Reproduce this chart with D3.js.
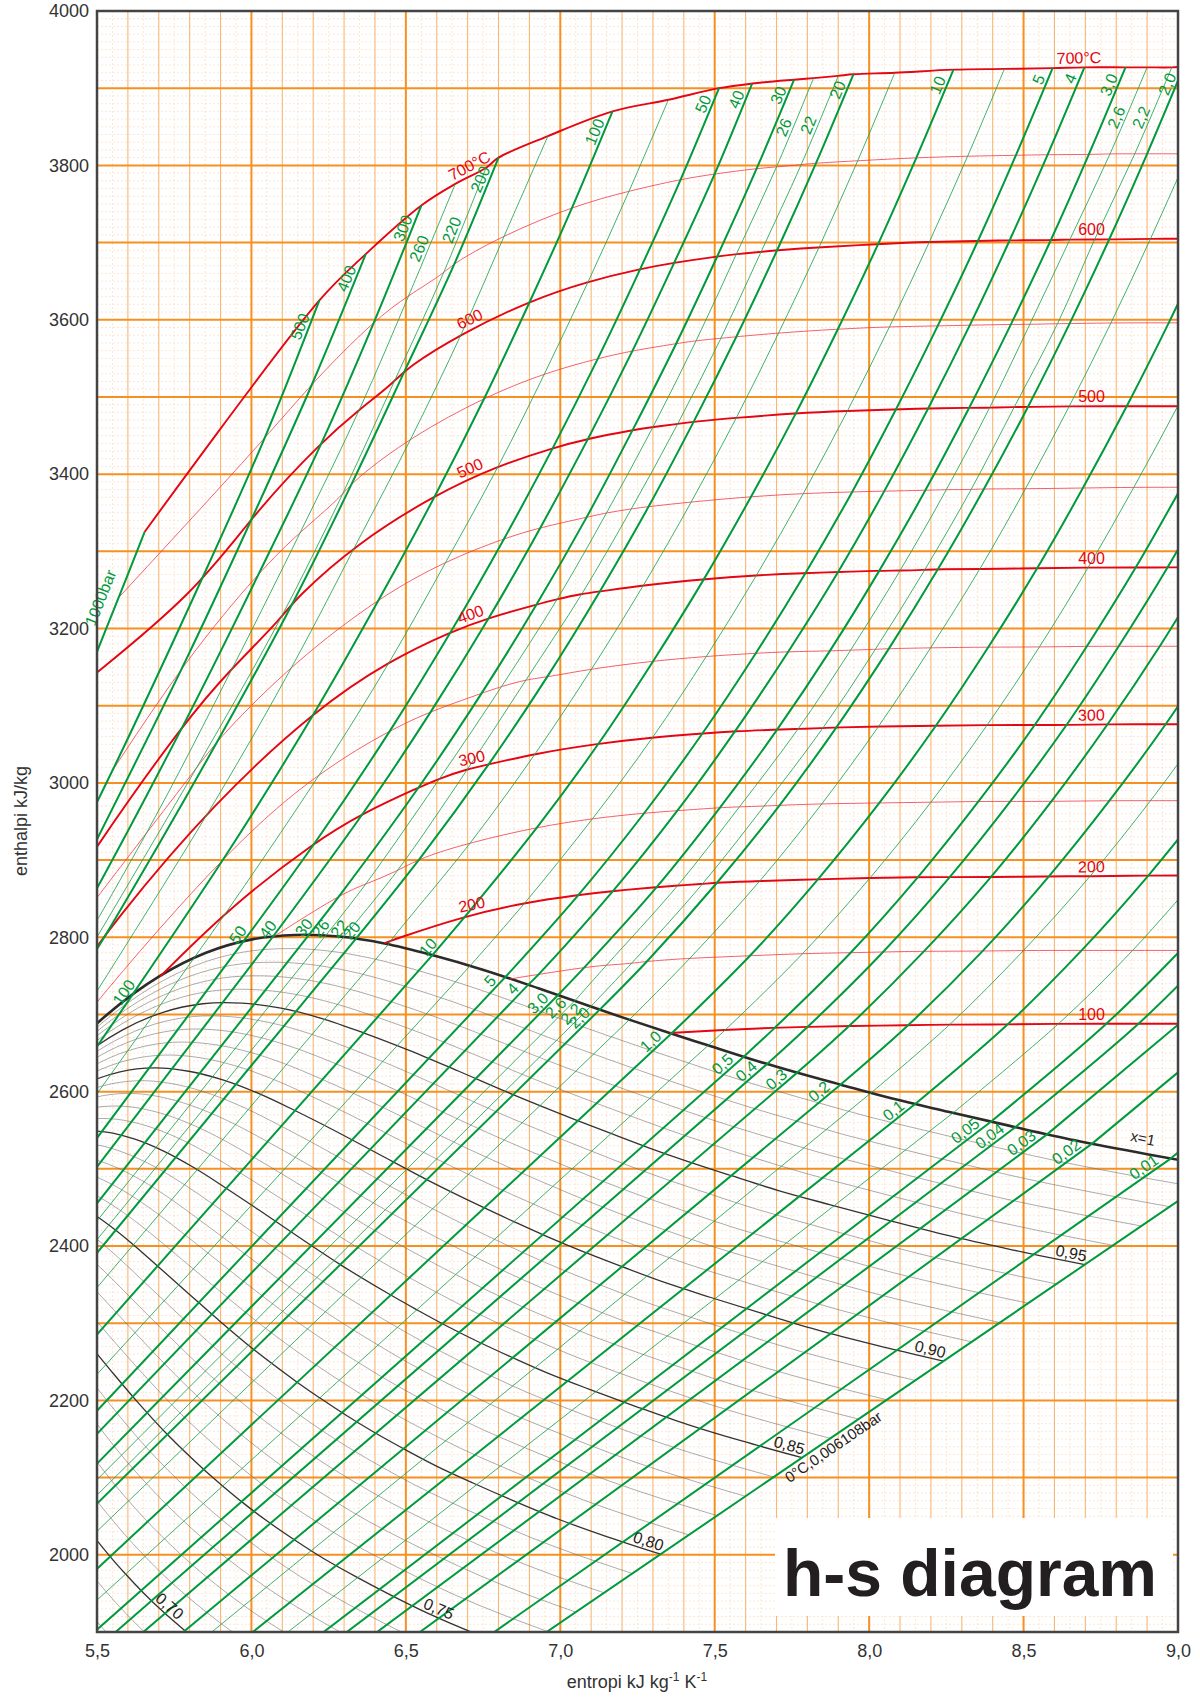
<!DOCTYPE html>
<html><head><meta charset="utf-8">
<script src="https://cdn.jsdelivr.net/npm/d3@7"></script>
<style>body{margin:0;background:#fff}svg{display:block}text{font-family:"Liberation Sans",Arial,sans-serif}</style>
</head><body><div id="chart"></div>
<script>
// axis ticks
var xTicks = [5.5, 6.0, 6.5, 7.0, 7.5, 8.0, 8.5, 9.0];
var yTicks = [2000, 2200, 2400, 2600, 2800, 3000, 3200, 3400, 3600, 3800, 4000];

// saturation data per isobar: [p bar, T C, hf, sf, hg, sg]
var satRows = [
  [200, 365.8, 1827, 4.015, 2412, 4.927], [150, 342.2, 1610, 3.684, 2610, 5.311],
  [100, 311.0, 1408, 3.360, 2725, 5.614], [70, 285.9, 1267, 3.122, 2773, 5.814],
  [50, 264.0, 1155, 2.921, 2794, 5.973], [40, 250.4, 1087, 2.797, 2801, 6.070],
  [30, 233.9, 1008, 2.646, 2803, 6.186], [26, 226.1, 971, 2.572, 2802, 6.240],
  [22, 217.3, 932, 2.493, 2801, 6.300], [20, 212.4, 909, 2.447, 2799, 6.340],
  [15, 198.3, 845, 2.315, 2791, 6.444], [10, 179.9, 763, 2.138, 2777, 6.586],
  [7, 165.0, 697, 1.992, 2763, 6.708], [5, 151.8, 640, 1.861, 2748, 6.821],
  [4, 143.6, 605, 1.776, 2738, 6.895], [3, 133.5, 561, 1.672, 2725, 6.992],
  [2.6, 128.7, 541, 1.620, 2719, 7.050], [2.2, 123.3, 517, 1.560, 2711, 7.100],
  [2, 120.2, 505, 1.530, 2706, 7.127], [1.5, 111.4, 467, 1.434, 2693, 7.223],
  [1, 99.6, 417, 1.303, 2675, 7.359], [0.7, 90.0, 377, 1.192, 2660, 7.479],
  [0.5, 81.3, 340, 1.091, 2645, 7.593], [0.4, 75.9, 318, 1.026, 2636, 7.670],
  [0.3, 69.1, 289, 0.944, 2625, 7.768], [0.2, 60.1, 251, 0.832, 2609, 7.907],
  [0.15, 54.0, 226, 0.755, 2599, 8.008], [0.1, 45.8, 192, 0.649, 2584, 8.149],
  [0.07, 39.0, 164, 0.559, 2572, 8.270], [0.05, 32.9, 138, 0.476, 2561, 8.394],
  [0.04, 29.0, 121, 0.422, 2554, 8.473], [0.03, 24.1, 101, 0.354, 2545, 8.577],
  [0.02, 17.5, 73, 0.261, 2533, 8.723], [0.01, 7.0, 29, 0.106, 2513, 8.975],
  [0.006108, 0.01, 0, 0, 2501, 9.156]
];

// saturation table by temperature for the quality lines: [T C, hf, sf, hg, sg]
var satByT = [
  [360, 1761.7, 3.917, 2482, 5.054], [340, 1594.5, 3.660, 2622, 5.336], [320, 1462.2, 3.449, 2701, 5.536],
  [300, 1345.0, 3.255, 2750, 5.704], [280, 1236.7, 3.069, 2780, 5.853], [260, 1135.0, 2.885, 2797, 5.998],
  [240, 1037.6, 2.702, 2803, 6.141], [220, 943.6, 2.518, 2801, 6.284], [200, 852.3, 2.331, 2792, 6.431],
  [180, 763.1, 2.139, 2777, 6.585], [160, 675.5, 1.943, 2758, 6.749], [140, 589.2, 1.739, 2734, 6.929],
  [120, 503.8, 1.528, 2706, 7.129], [100, 419.2, 1.307, 2676, 7.354], [90, 376.9, 1.193, 2660, 7.478],
  [80, 334.9, 1.076, 2643, 7.611], [70, 293.0, 0.955, 2626, 7.754], [60, 251.2, 0.831, 2609, 7.908],
  [50, 209.3, 0.704, 2591, 8.075], [40, 167.5, 0.572, 2574, 8.256], [30, 125.7, 0.437, 2556, 8.452],
  [20, 83.9, 0.297, 2537, 8.666], [10, 42.0, 0.151, 2519, 8.900], [0.01, 0, 0, 2501, 9.156]
];

// superheated isobars: [p, [[T, s, h], ...]]
var superRows = [
  [1000, [[600,5.46,3130],[650,5.57,3240],[700,5.654,3325]]],
  [500, [[500,5.18,2720],[550,5.55,3016],[600,5.82,3247],[650,6.04,3444],[700,6.22,3625]]],
  [400, [[500,5.47,2903],[550,5.79,3161],[600,6.01,3350],[650,6.20,3520],[700,6.37,3685]]],
  [300, [[400,4.47,2153],[450,5.44,2820],[500,5.79,3083],[550,6.03,3276],[600,6.23,3443],[650,6.40,3600],[700,6.55,3748]]],
  [260, [[400,5.09,2540],[450,5.66,2935],[500,5.94,3150],[550,6.16,3326],[600,6.35,3484],[650,6.51,3632],[700,6.66,3776]]],
  [220, [[400,5.40,2733],[450,5.82,3018],[500,6.09,3210],[550,6.29,3370],[600,6.46,3518],[650,6.62,3659],[700,6.76,3797]]],
  [200, [[400,5.55,2818],[450,5.90,3061],[500,6.14,3238],[550,6.33,3392],[600,6.50,3537],[650,6.66,3675],[700,6.80,3810]]],
  [150, [[350,5.44,2692],[400,5.88,2975],[450,6.14,3157],[500,6.34,3310],[550,6.52,3449],[600,6.68,3582],[650,6.82,3710],[700,6.96,3838]]],
  [100, [[350,5.946,2924],[400,6.213,3097],[450,6.419,3242],[500,6.597,3374],[550,6.756,3500],[600,6.903,3625],[650,7.040,3747],[700,7.169,3870]]],
  [70, [[300,5.930,2839],[350,6.230,3017],[400,6.450,3159],[450,6.632,3288],[500,6.800,3411],[550,6.950,3531],[600,7.091,3650],[650,7.223,3767],[700,7.350,3885]]],
  [50, [[300,6.210,2925],[350,6.451,3069],[400,6.646,3196],[450,6.819,3317],[500,6.976,3434],[550,7.122,3550],[600,7.259,3666],[650,7.390,3782],[700,7.514,3900]]],
  [40, [[300,6.362,2961],[350,6.582,3093],[400,6.769,3214],[450,6.936,3331],[500,7.090,3446],[550,7.234,3560],[600,7.369,3674],[650,7.500,3789],[700,7.621,3906]]],
  [30, [[250,6.289,2856],[300,6.541,2994],[350,6.745,3116],[400,6.923,3231],[450,7.085,3344],[500,7.234,3457],[550,7.375,3569],[600,7.508,3682],[650,7.636,3796],[700,7.757,3911]]],
  [26, [[250,6.37,2869],[300,6.61,3006],[350,6.81,3125],[400,6.99,3238],[450,7.15,3350],[500,7.30,3461],[550,7.44,3573],[600,7.57,3685],[650,7.70,3798],[700,7.82,3913]]],
  [22, [[250,6.47,2885],[300,6.70,3018],[350,6.89,3134],[400,7.07,3245],[450,7.23,3355],[500,7.38,3465],[550,7.52,3576],[600,7.65,3688],[650,7.78,3801],[700,7.90,3916]]],
  [20, [[250,6.547,2903],[300,6.768,3024],[350,6.957,3137],[400,7.128,3248],[450,7.286,3358],[500,7.432,3468],[550,7.570,3578],[600,7.702,3690],[650,7.828,3803],[700,7.949,3918]]],
  [15, [[200,6.452,2796],[250,6.710,2923],[300,6.919,3038],[350,7.102,3148],[400,7.269,3256],[450,7.424,3364],[500,7.570,3473],[550,7.707,3583],[600,7.838,3694],[650,7.963,3806],[700,8.083,3920]]],
  [10, [[200,6.694,2828],[250,6.926,2943],[300,7.124,3051],[350,7.301,3158],[400,7.465,3264],[450,7.618,3371],[500,7.763,3479],[550,7.899,3588],[600,8.029,3698],[650,8.153,3810],[700,8.273,3924]]],
  [7, [[200,6.886,2845],[250,7.105,2954],[300,7.299,3059],[350,7.473,3164],[400,7.635,3269],[450,7.787,3375],[500,7.930,3482],[550,8.066,3591],[600,8.195,3701],[650,8.319,3812],[700,8.438,3925]]],
  [5, [[200,7.059,2855],[250,7.272,2961],[300,7.460,3064],[350,7.633,3168],[400,7.794,3272],[450,7.945,3377],[500,8.087,3484],[550,8.222,3592],[600,8.352,3702],[650,8.475,3813],[700,8.594,3926]]],
  [4, [[150,6.930,2752],[200,7.171,2860],[250,7.379,2964],[300,7.566,3067],[350,7.738,3170],[400,7.899,3273],[450,8.049,3378],[500,8.191,3485],[550,8.326,3593],[600,8.455,3703],[650,8.578,3814],[700,8.697,3927]]],
  [3, [[150,7.078,2761],[200,7.312,2865],[250,7.517,2968],[300,7.702,3069],[350,7.873,3171],[400,8.033,3275],[450,8.182,3379],[500,8.324,3486],[550,8.459,3594],[600,8.588,3703],[650,8.711,3814],[700,8.830,3927]]],
  [2.6, [[150,7.15,2764],[200,7.38,2867],[250,7.58,2969],[300,7.77,3070],[350,7.94,3172],[400,8.10,3275],[450,8.25,3380],[500,8.39,3486],[550,8.52,3594],[600,8.65,3704],[650,8.78,3815],[700,8.90,3927]]],
  [2.2, [[150,7.23,2766],[200,7.46,2869],[250,7.66,2970],[300,7.85,3071],[350,8.02,3173],[400,8.18,3276],[450,8.33,3380],[500,8.47,3487],[550,8.61,3595],[600,8.73,3704],[650,8.86,3815],[700,8.98,3927]]],
  [2, [[150,7.281,2769],[200,7.508,2871],[250,7.710,2971],[300,7.894,3072],[350,8.064,3174],[400,8.223,3277],[450,8.372,3381],[500,8.514,3487],[550,8.649,3595],[600,8.777,3704],[650,8.900,3815],[700,9.019,3928]]],
  [1.5, [[150,7.420,2773],[200,7.646,2873],[250,7.847,2973],[300,8.030,3073],[350,8.199,3175],[400,8.358,3277],[450,8.506,3381],[500,8.648,3488],[550,8.783,3596],[600,8.911,3705],[650,9.034,3815]]],
  [1, [[150,7.614,2776],[200,7.834,2875],[250,8.033,2974],[300,8.216,3074],[350,8.386,3176],[400,8.544,3278],[450,8.692,3382],[500,8.834,3488],[550,8.970,3596],[600,9.098,3705]]],
  [0.7, [[100,7.534,2680],[150,7.785,2779],[200,8.003,2877],[250,8.200,2975],[300,8.382,3075],[350,8.551,3176],[400,8.709,3279],[450,8.857,3383],[500,8.999,3488],[550,9.135,3596]]],
  [0.5, [[100,7.695,2683],[150,7.940,2780],[200,8.158,2878],[250,8.354,2976],[300,8.536,3075],[350,8.705,3177],[400,8.863,3279],[450,9.011,3383],[500,9.154,3488]]],
  [0.4, [[100,7.801,2684],[150,8.045,2781],[200,8.261,2878],[250,8.457,2976],[300,8.639,3075],[350,8.808,3177],[400,8.966,3279],[450,9.114,3383]]],
  [0.3, [[100,7.935,2685],[150,8.178,2782],[200,8.394,2878],[250,8.590,2976],[300,8.772,3076],[350,8.941,3177],[400,9.099,3280]]],
  [0.2, [[100,8.126,2686],[150,8.367,2782],[200,8.582,2879],[250,8.778,2977],[300,8.960,3076],[350,9.128,3177]]],
  [0.15, [[100,8.261,2687],[150,8.500,2783],[200,8.715,2879],[250,8.911,2977],[300,9.093,3076]]],
  [0.1, [[100,8.448,2687],[150,8.688,2783],[200,8.904,2880],[250,9.100,2977]]],
  [0.07, [[100,8.613,2688],[150,8.853,2783],[200,9.068,2880]]],
  [0.05, [[100,8.768,2688],[150,9.008,2783]]],
  [0.04, [[100,8.872,2688],[150,9.112,2783]]],
  [0.03, [[100,9.004,2688]]],
  [0.02, [[100,9.190,2688]]],
  [0.01, [[100,9.510,2688]]]
];

// where each isotherm meets the x=1 line: [T, s, h]
var isoSatStart = [[100,7.354,2676],[150,6.837,2746],[200,6.431,2792],[250,6.073,2801],[300,5.704,2749],[350,5.211,2563]];
var isotherms = [100,150,200,250,300,350,400,450,500,550,600,650,700];
var boldP = [1000,500,400,300,200,100,50,40,30,20,10,5,4,3,2,1,0.5,0.4,0.3,0.2,0.1,0.05,0.04,0.03,0.02,0.01,0.006108];
var qualities = d3.range(60, 101).map(function (d) { return d / 100; });

// labels
var topLabels = [[500,"500"],[400,"400"],[300,"300"],[260,"260"],[220,"220"],[200,"200"],[100,"100"],[50,"50"],[40,"40"],[30,"30"],[26,"26"],[22,"22"],[20,"20"],[10,"10"],[5,"5"],[4,"4"],[3,"3,0"],[2.6,"2,6"],[2.2,"2,2"],[2,"2,0"]];
var satUpLabels = [[100,"100"],[50,"50"],[40,"40"],[30,"30"],[26,"26"],[22,"22"],[20,"20"],[10,"10"]];
var satDownLabels = [[5,"5"],[4,"4"],[3,"3,0"],[2.6,"2,6"],[2.2,"2,2"],[2,"2,0"],[1,"1,0"],[0.5,"0,5"],[0.4,"0,4"],[0.3,"0,3"],[0.2,"0,2"],[0.1,"0,1"],[0.05,"0,05"],[0.04,"0,04"],[0.03,"0,03"],[0.02,"0,02"],[0.01,"0,01"]];
var isoLeftLabels = [[700,"700°C"],[600,"600"],[500,"500"],[400,"400"],[300,"300"],[200,"200"]];
var isoRightLabels = [[700,"700°C"],[600,"600"],[500,"500"],[400,"400"],[300,"300"],[200,"200"],[100,"100"]];
var qualityLabels = [[0.95,"0,95"],[0.90,"0,90"],[0.85,"0,85"],[0.80,"0,80"],[0.75,"0,75"],[0.70,"0,70"]];

var W = 1200, H = 1697;
var x = d3.scaleLinear().domain([5.5, 9.0]).range([97, 1178]);
var y = d3.scaleLinear().domain([1900, 4000]).range([1632, 11]);

var svg = d3.select("#chart").append("svg").attr("width", W).attr("height", H);
svg.append("defs").append("clipPath").attr("id", "plot")
  .append("rect").attr("x", 97).attr("y", 11).attr("width", 1081).attr("height", 1621);

var grid = svg.append("g");
var ORANGE = "#f7901e";
d3.range(1900, 4001, 10).forEach(function (h) {
  if (h % 100 === 0) return;
  grid.append("line").attr("x1", 97).attr("x2", 1178).attr("y1", y(h)).attr("y2", y(h))
    .attr("stroke", "#fbdcbf").attr("stroke-width", 0.7).attr("stroke-dasharray", "2,2");
});
d3.range(0, 71).forEach(function (i) {
  var s = 5.5 + i * 0.05;
  var st = i % 10 === 0 ? null : (i % 2 === 0 ? "med" : "dot");
  if (!st) return;
  grid.append("line").attr("x1", x(s)).attr("x2", x(s)).attr("y1", 11).attr("y2", 1632)
    .attr("stroke", st === "med" ? "#f9b775" : "#fbdcbf")
    .attr("stroke-width", st === "med" ? 1.1 : 0.7)
    .attr("stroke-dasharray", st === "med" ? null : "2,2");
});
d3.range(1900, 4001, 100).forEach(function (h) {
  grid.append("line").attr("x1", 97).attr("x2", 1178).attr("y1", y(h)).attr("y2", y(h))
    .attr("stroke", ORANGE).attr("stroke-width", 2);
});
xTicks.forEach(function (s) {
  grid.append("line").attr("x1", x(s)).attr("x2", x(s)).attr("y1", 11).attr("y2", 1632)
    .attr("stroke", ORANGE).attr("stroke-width", 2);
});

var plot = svg.append("g").attr("clip-path", "url(#plot)");
var curve = d3.line().x(function (d) { return x(d[0]); }).y(function (d) { return y(d[1]); })
  .curve(d3.curveCatmullRom.alpha(0.5));
var smooth = d3.line().x(function (d) { return x(d[0]); }).y(function (d) { return y(d[1]); })
  .curve(d3.curveBasis);
var straight = d3.line().x(function (d) { return x(d[0]); }).y(function (d) { return y(d[1]); });

function satOf(p) { return satRows.find(function (r) { return r[0] === p; }); }
function superOf(p) { var r = superRows.find(function (r) { return r[0] === p; }); return r ? r[1] : []; }
function isobarPts(p) {
  var sat = satOf(p), pts = [];
  if (sat) pts.push([sat[5], sat[4]]);
  superOf(p).forEach(function (d) { pts.push([d[1], d[2]]); });
  return pts;
}
function qualityPts(q) {
  return satByT.map(function (r) { return [r[2] + q * (r[4] - r[2]), r[1] + q * (r[3] - r[1])]; });
}

// quality lines
var qg = plot.append("g");
qualities.forEach(function (q) {
  var k = Math.round(q * 100);
  qg.append("path").attr("d", curve(qualityPts(q))).attr("fill", "none")
    .attr("stroke", k === 100 ? "#2b2b2b" : (k % 5 === 0 ? "#333" : "#666"))
    .attr("stroke-width", k === 100 ? 2.6 : (k % 5 === 0 ? 1.3 : 0.55));
});

// isotherms (red); the 700 C boundary goes through its points exactly
var tg = plot.append("g");
var isoPts = {};
isotherms.forEach(function (T) {
  var pts = [];
  var st = isoSatStart.find(function (d) { return d[0] === T; });
  if (st) pts.push([st[1], st[2]]);
  superRows.forEach(function (r) {
    r[1].forEach(function (d) { if (d[0] === T) pts.push([d[1], d[2]]); });
  });
  pts.sort(function (a, b) { return a[0] - b[0]; });
  isoPts[T] = pts;
  var bold = T % 100 === 0;
  tg.append("path").attr("d", (T === 700 ? curve : smooth)(pts)).attr("fill", "none")
    .attr("stroke", bold ? "#e30613" : "#ee3a48").attr("stroke-width", bold ? 1.9 : 0.8);
});

// isobars (green)
var pg = plot.append("g");
var allP = satRows.map(function (r) { return r[0]; });
superRows.forEach(function (r) { if (allP.indexOf(r[0]) < 0) allP.push(r[0]); });
allP.forEach(function (p) {
  var bold = boldP.indexOf(p) >= 0;
  var col = bold ? "#009a3e" : "#1ea453", w = bold ? 2.0 : 0.85;
  var sat = satOf(p);
  if (sat) {
    pg.append("path").attr("d", straight([[sat[3], sat[2]], [sat[5], sat[4]]]))
      .attr("stroke", col).attr("stroke-width", w).attr("fill", "none");
  }
  var pts = isobarPts(p);
  if (pts.length > 1) {
    pg.append("path").attr("d", curve(pts)).attr("stroke", col).attr("stroke-width", w).attr("fill", "none");
  }
});

// labels
var lg = svg.append("g");
var GREEN = "#009a3e", RED = "#e30613";
function lerp(a, b, t) { return [a[0] + (b[0] - a[0]) * t, a[1] + (b[1] - a[1]) * t]; }
function angleOf(a, b) { return Math.atan2(y(b[1]) - y(a[1]), x(b[0]) - x(a[0])) * 180 / Math.PI; }
function putText(pt, ang, text, color, size, anchor, dy) {
  lg.append("text").attr("transform", "translate(" + x(pt[0]) + "," + y(pt[1]) + ") rotate(" + ang + ")")
    .attr("dy", dy).attr("text-anchor", anchor).attr("fill", color).attr("font-size", size).text(text);
}

topLabels.forEach(function (d) {
  var pts = isobarPts(d[0]), n = pts.length;
  var a = pts[n - 2], b = pts[n - 1];
  var thin = boldP.indexOf(d[0]) < 0;
  putText(lerp(a, b, thin ? 0.5 : 0.88), angleOf(a, b), d[1], GREEN, 16, "end", -3);
});
satUpLabels.forEach(function (d) {
  var pts = isobarPts(d[0]);
  var a = pts[0], b = pts[1];
  putText(lerp(a, b, 12 / (b[1] - a[1])), angleOf(a, b), d[1], GREEN, 16, "end", -3);
});
satDownLabels.forEach(function (d) {
  var r = satOf(d[0]);
  var a = [r[3], r[2]], b = [r[5], r[4]];
  putText(lerp(a, b, 1 - 8 / (b[1] - a[1])), angleOf(a, b), d[1], GREEN, 16, "end", -3);
});
(function () {
  var pts = isobarPts(1000);
  putText([5.505, 3200], angleOf(pts[0], pts[1]), "1000bar", GREEN, 16, "start", -4);
})();

function isoAt(T, s) {
  var pts = isoPts[T];
  for (var i = 0; i < pts.length - 1; i++) {
    if (pts[i][0] <= s && pts[i + 1][0] >= s) {
      var t = (s - pts[i][0]) / (pts[i + 1][0] - pts[i][0]);
      return { p: lerp(pts[i], pts[i + 1], t), a: pts[i], b: pts[i + 1] };
    }
  }
  return null;
}
function isoLabel(T, s, text) {
  var r = isoAt(T, s);
  if (r) putText(r.p, angleOf(r.a, r.b), text, RED, 16, "middle", -4);
}
isoLeftLabels.forEach(function (d) { isoLabel(d[0], 6.72, d[1]); });
isoRightLabels.forEach(function (d) { isoLabel(d[0], d[0] === 700 ? 8.68 : 8.72, d[1]); });

// quality labels: at the triple line end, or where the line leaves the bottom edge
qualityLabels.forEach(function (d) {
  var pts = qualityPts(d[0]), a = pts[pts.length - 2], b = pts[pts.length - 1];
  for (var i = 0; i < pts.length - 1; i++) {
    if (pts[i][1] >= 1912 && pts[i + 1][1] < 1912) {
      a = pts[i];
      b = lerp(pts[i], pts[i + 1], (pts[i][1] - 1912) / (pts[i][1] - pts[i + 1][1]));
      break;
    }
  }
  putText(b, angleOf(a, b), d[1], "#222", 16, "end", -3);
});
(function () {
  var r = satOf(0.006108);
  var a = [r[3], r[2]], b = [r[5], r[4]];
  var pt = lerp(a, b, (8.02 - a[0]) / (b[0] - a[0]));
  putText(pt, angleOf(a, b), "0°C,0,006108bar", "#222", 15, "end", 14);
  putText([8.88, 2528], 12, "x=1", "#222", 15, "middle", -4);
})();

// title box
svg.append("rect").attr("x", 775).attr("y", 1518).attr("width", 398).attr("height", 98).attr("fill", "#fff");
svg.append("text").attr("x", 970).attr("y", 1596).attr("text-anchor", "middle")
  .attr("font-size", 66).attr("font-weight", "bold").attr("fill", "#231f20").text("h-s diagram");

// frame
svg.append("rect").attr("x", 97).attr("y", 11).attr("width", 1081).attr("height", 1621)
  .attr("fill", "none").attr("stroke", "#444").attr("stroke-width", 2.5);

// axes
var fmt = function (d) { return d.toFixed(1).replace(".", ","); };
var ax = svg.append("g").attr("transform", "translate(0,1632)")
  .call(d3.axisBottom(x).tickValues(xTicks).tickFormat(fmt).tickSize(0).tickPadding(12));
var ay = svg.append("g").attr("transform", "translate(97,0)")
  .call(d3.axisLeft(y).tickValues(yTicks).tickFormat(d3.format("d")).tickSize(0).tickPadding(8));
[ax, ay].forEach(function (g) {
  g.select(".domain").remove();
  g.selectAll("text").attr("font-size", 18).attr("fill", "#333")
    .attr("font-family", "'Liberation Sans',Arial,sans-serif");
});
svg.append("text").attr("transform", "translate(27,821) rotate(-90)").attr("text-anchor", "middle")
  .attr("font-size", 18).attr("fill", "#333").text("enthalpi kJ/kg");
var xt = svg.append("text").attr("x", 637).attr("y", 1688).attr("text-anchor", "middle")
  .attr("font-size", 18).attr("fill", "#333");
xt.append("tspan").text("entropi kJ kg");
xt.append("tspan").attr("dy", -7).attr("font-size", 12).text("-1");
xt.append("tspan").attr("dy", 7).text(" K");
xt.append("tspan").attr("dy", -7).attr("font-size", 12).text("-1");
</script></body></html>
